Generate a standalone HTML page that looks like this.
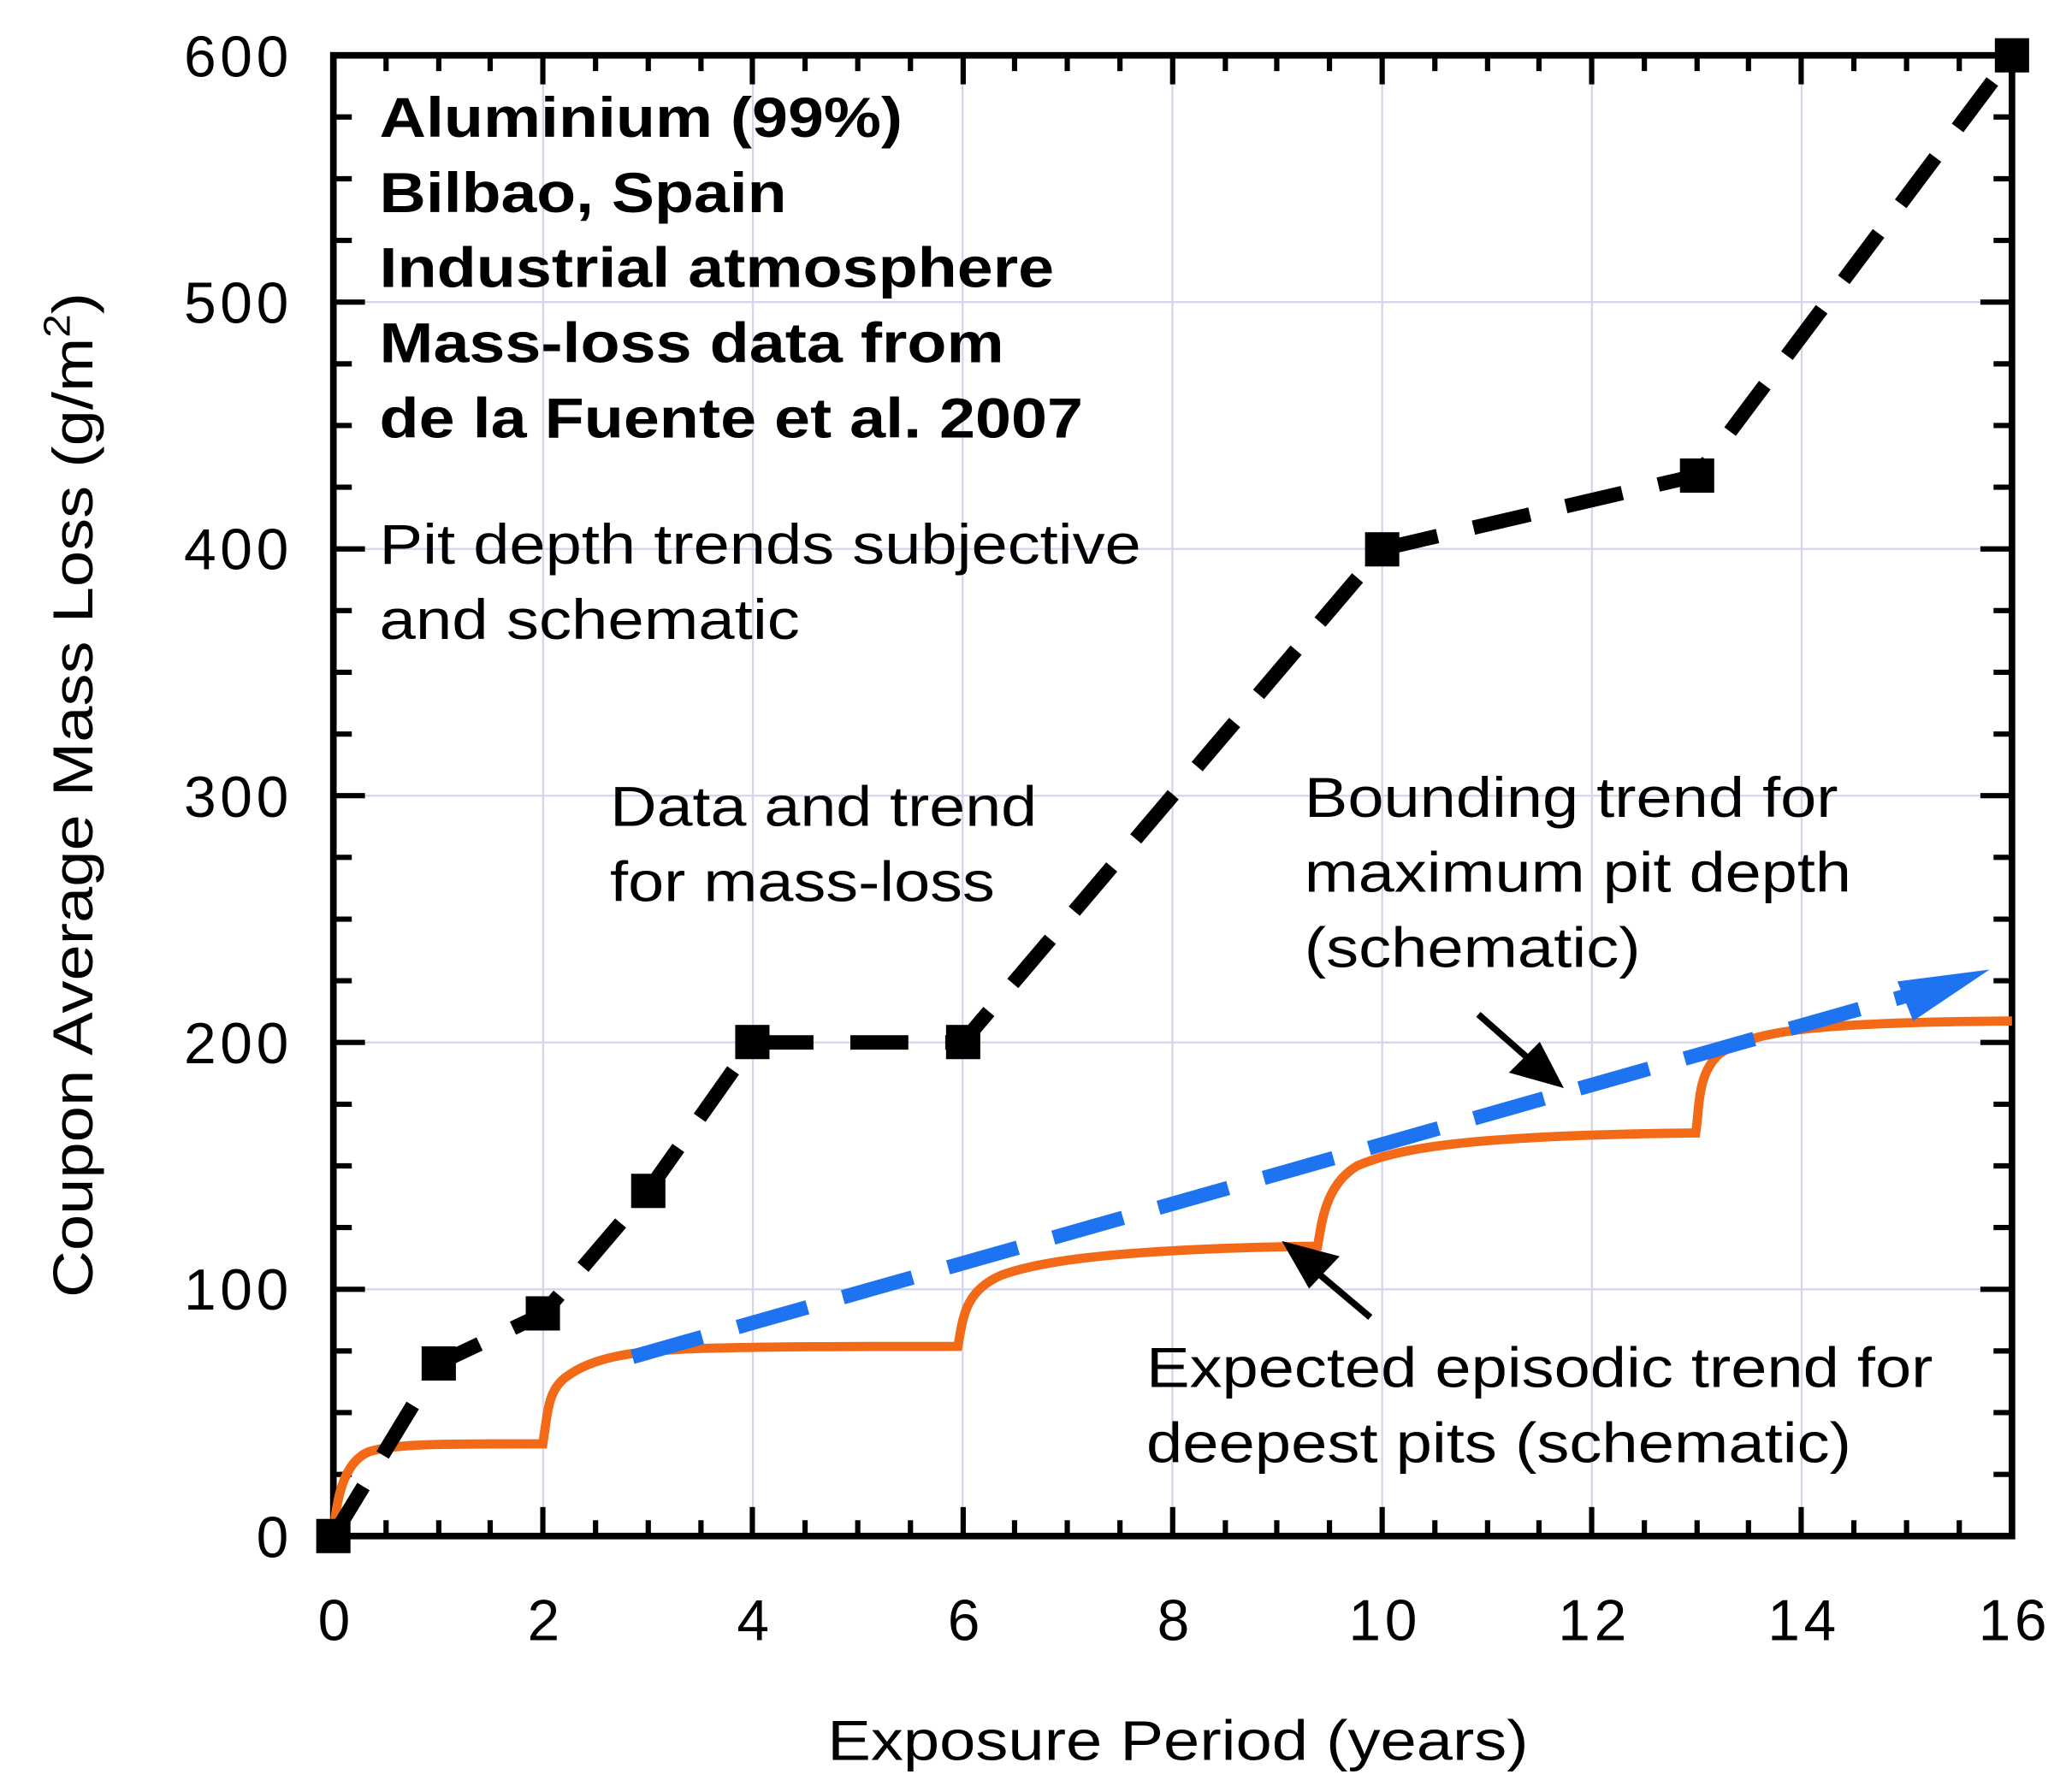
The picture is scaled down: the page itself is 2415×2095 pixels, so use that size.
<!DOCTYPE html>
<html><head><style>html,body{margin:0;padding:0;background:#fff;}svg{display:block}</style></head>
<body>
<svg width="2415" height="2095" viewBox="0 0 1568 1360.3" preserveAspectRatio="none" xmlns="http://www.w3.org/2000/svg" font-family="Liberation Sans, Arial, sans-serif">
<rect width="1568" height="1361" fill="#fff"/>
<g stroke="#d4d4ee" stroke-width="1.5">
<line x1="412.2" y1="42" x2="412.2" y2="1166"/><line x1="571.4" y1="42" x2="571.4" y2="1166"/><line x1="730.6" y1="42" x2="730.6" y2="1166"/><line x1="889.8" y1="42" x2="889.8" y2="1166"/><line x1="1049" y1="42" x2="1049" y2="1166"/><line x1="1208.2" y1="42" x2="1208.2" y2="1166"/><line x1="1367.4" y1="42" x2="1367.4" y2="1166"/>
<line x1="253" y1="978.7" x2="1527" y2="978.7"/><line x1="253" y1="791.3" x2="1527" y2="791.3"/><line x1="253" y1="604" x2="1527" y2="604"/><line x1="253" y1="416.7" x2="1527" y2="416.7"/><line x1="253" y1="229.3" x2="1527" y2="229.3"/>
</g>
<g stroke="#000" stroke-width="4">
<path d="M293,1166v-12M333,1166v-12M372,1166v-12M412,1166v-22M452,1166v-12M492,1166v-12M532,1166v-12M571,1166v-22M611,1166v-12M651,1166v-12M691,1166v-12M731,1166v-22M770,1166v-12M810,1166v-12M850,1166v-12M890,1166v-22M930,1166v-12M969,1166v-12M1009,1166v-12M1049,1166v-22M1089,1166v-12M1129,1166v-12M1168,1166v-12M1208,1166v-22M1248,1166v-12M1288,1166v-12M1327,1166v-12M1367,1166v-22M1407,1166v-12M1447,1166v-12M1487,1166v-12"/>
<path d="M293,42v12M333,42v12M372,42v12M412,42v22M452,42v12M492,42v12M532,42v12M571,42v22M611,42v12M651,42v12M691,42v12M731,42v22M770,42v12M810,42v12M850,42v12M890,42v22M930,42v12M969,42v12M1009,42v12M1049,42v22M1089,42v12M1129,42v12M1168,42v12M1208,42v22M1248,42v12M1288,42v12M1327,42v12M1367,42v22M1407,42v12M1447,42v12M1487,42v12"/>
<path id="yt" d="M253,1119.2h14M253,1072.3h14M253,1025.5h14M253,978.7h24M253,931.8h14M253,885h14M253,838.2h14M253,791.3h24M253,744.5h14M253,697.7h14M253,650.8h14M253,604h24M253,557.2h14M253,510.3h14M253,463.5h14M253,416.7h24M253,369.8h14M253,323h14M253,276.2h14M253,229.3h24M253,182.5h14M253,135.7h14M253,88.8h14"/>
<use href="#yt" transform="translate(1780,0) scale(-1,1)"/>
</g>
<rect x="253" y="42" width="1274" height="1124" fill="none" stroke="#000" stroke-width="5"/>
<path d="M253,1166 C255,1140 260,1110 280,1102 C300,1096 330,1096 412,1096 C416,1070 416,1055 430,1045 C450,1030 480,1026 520,1024 C580,1022 650,1022 727,1022 C731,1000 732,980 760,968 C790,957 850,948 1000,946 C1003,930 1005,900 1030,885 C1060,872 1110,862 1287,860 C1290,840 1288,815 1305,800 C1330,782 1380,776 1527,775" fill="none" stroke="#f26a17" stroke-width="7"/>
<path d="M480,1030 L1450,755" fill="none" stroke="#1e74f0" stroke-width="11" stroke-dasharray="55,28"/>
<path d="M1510,736 L1440,745 L1452,775 Z" fill="#1e74f0"/>
<path d="M253,1166 L332.6,1035 L412.2,997.4 L491.8,904 L571.4,791.3 L730.6,791.3 L1049,416.7 L1288,361 L1527,42" fill="none" stroke="#000" stroke-width="11" stroke-dasharray="44,28"/>
<g fill="#000">
<rect x="240" y="1153" width="26" height="26"/><rect x="320" y="1022" width="26" height="26"/><rect x="399" y="984" width="26" height="26"/><rect x="479" y="891" width="26" height="26"/><rect x="558" y="778" width="26" height="26"/><rect x="718" y="778" width="26" height="26"/><rect x="1036" y="404" width="26" height="26"/><rect x="1275" y="348" width="26" height="26"/><rect x="1514" y="29" width="26" height="26"/>
</g>
<g stroke="#000" stroke-width="5" fill="#000">
<line x1="1122" y1="770" x2="1165" y2="808"/>
<path d="M1182,822 L1150,813 L1168,795 Z"/>
<line x1="1040" y1="1000" x2="995" y2="962"/>
<path d="M978,946 L1012,955 L994,974 Z"/>
</g>
<g font-size="44" fill="#000" letter-spacing="3">
<g text-anchor="end">
<text x="222" y="1182">0</text><text x="222" y="994">100</text><text x="222" y="807">200</text><text x="222" y="620">300</text><text x="222" y="432">400</text><text x="222" y="245">500</text><text x="222" y="58">600</text>
</g>
<g text-anchor="middle">
<text x="255" y="1245">0</text><text x="414" y="1245">2</text><text x="573" y="1245">4</text><text x="733" y="1245">6</text><text x="892" y="1245">8</text><text x="1051" y="1245">10</text><text x="1210" y="1245">12</text><text x="1369" y="1245">14</text><text x="1529" y="1245">16</text>
</g>
</g>
<g font-size="43" fill="#000" lengthAdjust="spacingAndGlyphs">
<text x="628" y="1336" textLength="532" lengthAdjust="spacingAndGlyphs">Exposure Period (years)</text>
<text transform="translate(70,985) rotate(-90)" textLength="763" lengthAdjust="spacingAndGlyphs">Coupon Average Mass Loss (g/m<tspan font-size="28" dy="-17">2</tspan><tspan dy="17">)</tspan></text>
<g font-weight="bold">
<text x="288" y="104" textLength="397" lengthAdjust="spacingAndGlyphs">Aluminium (99%)</text>
<text x="288" y="161" textLength="309" lengthAdjust="spacingAndGlyphs">Bilbao, Spain</text>
<text x="288" y="218" textLength="512" lengthAdjust="spacingAndGlyphs">Industrial atmosphere</text>
<text x="288" y="275" textLength="474" lengthAdjust="spacingAndGlyphs">Mass-loss data from</text>
<text x="288" y="332" textLength="534" lengthAdjust="spacingAndGlyphs">de la Fuente et al. 2007</text>
</g>
<text x="288" y="428" textLength="578" lengthAdjust="spacingAndGlyphs">Pit depth trends subjective</text>
<text x="288" y="485" textLength="319" lengthAdjust="spacingAndGlyphs">and schematic</text>
<text x="463" y="627" textLength="324" lengthAdjust="spacingAndGlyphs">Data and trend</text>
<text x="463" y="684" textLength="292" lengthAdjust="spacingAndGlyphs">for mass-loss</text>
<text x="990" y="620" textLength="405" lengthAdjust="spacingAndGlyphs">Bounding trend for</text>
<text x="990" y="677" textLength="415" lengthAdjust="spacingAndGlyphs">maximum pit depth</text>
<text x="990" y="734" textLength="255" lengthAdjust="spacingAndGlyphs">(schematic)</text>
<text x="870" y="1053" textLength="597" lengthAdjust="spacingAndGlyphs">Expected episodic trend for</text>
<text x="870" y="1110" textLength="535" lengthAdjust="spacingAndGlyphs">deepest pits (schematic)</text>
</g>
</svg>
</body></html>
